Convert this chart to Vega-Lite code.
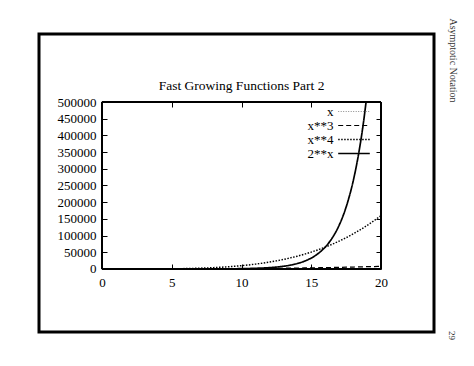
{
  "$schema": "https://vega.github.io/schema/vega-lite/v6.json",
  "width": 395,
  "height": 298,
  "autosize": {"type": "none"},
  "padding": {"left": 39, "top": 34, "right": 40, "bottom": 34},
  "background": "white",
  "title": {
    "text": "Fast Growing Functions Part 2",
    "anchor": "middle",
    "frame": "group",
    "font": "Liberation Serif",
    "fontSize": 13.5,
    "fontWeight": "normal",
    "color": "black",
    "dx": 5,
    "offset": -75
  },
  "data": {
    "values": [
      {"x": 0, "a": 0, "b": 0, "c": 0, "d": 1},
      {"x": 0.5, "a": 0.5, "b": 0.125, "c": 0.0625, "d": 1.414},
      {"x": 1, "a": 1, "b": 1, "c": 1, "d": 2},
      {"x": 1.5, "a": 1.5, "b": 3.375, "c": 5.0625, "d": 2.828},
      {"x": 2, "a": 2, "b": 8, "c": 16, "d": 4},
      {"x": 2.5, "a": 2.5, "b": 15.625, "c": 39.06, "d": 5.657},
      {"x": 3, "a": 3, "b": 27, "c": 81, "d": 8},
      {"x": 3.5, "a": 3.5, "b": 42.875, "c": 150.06, "d": 11.31},
      {"x": 4, "a": 4, "b": 64, "c": 256, "d": 16},
      {"x": 4.5, "a": 4.5, "b": 91.125, "c": 410.06, "d": 22.63},
      {"x": 5, "a": 5, "b": 125, "c": 625, "d": 32},
      {"x": 5.5, "a": 5.5, "b": 166.4, "c": 915.1, "d": 45.25},
      {"x": 6, "a": 6, "b": 216, "c": 1296, "d": 64},
      {"x": 6.5, "a": 6.5, "b": 274.6, "c": 1785.1, "d": 90.51},
      {"x": 7, "a": 7, "b": 343, "c": 2401, "d": 128},
      {"x": 7.5, "a": 7.5, "b": 421.9, "c": 3164.1, "d": 181.0},
      {"x": 8, "a": 8, "b": 512, "c": 4096, "d": 256},
      {"x": 8.5, "a": 8.5, "b": 614.1, "c": 5220.1, "d": 362.0},
      {"x": 9, "a": 9, "b": 729, "c": 6561, "d": 512},
      {"x": 9.5, "a": 9.5, "b": 857.4, "c": 8145.1, "d": 724.1},
      {"x": 10, "a": 10, "b": 1000, "c": 10000, "d": 1024},
      {"x": 10.5, "a": 10.5, "b": 1157.6, "c": 12155.1, "d": 1448.2},
      {"x": 11, "a": 11, "b": 1331, "c": 14641, "d": 2048},
      {"x": 11.5, "a": 11.5, "b": 1520.9, "c": 17490.1, "d": 2896.3},
      {"x": 12, "a": 12, "b": 1728, "c": 20736, "d": 4096},
      {"x": 12.5, "a": 12.5, "b": 1953.1, "c": 24414.1, "d": 5792.6},
      {"x": 13, "a": 13, "b": 2197, "c": 28561, "d": 8192},
      {"x": 13.5, "a": 13.5, "b": 2460.4, "c": 33215.1, "d": 11585.2},
      {"x": 14, "a": 14, "b": 2744, "c": 38416, "d": 16384},
      {"x": 14.5, "a": 14.5, "b": 3048.6, "c": 44205.1, "d": 23170.5},
      {"x": 15, "a": 15, "b": 3375, "c": 50625, "d": 32768},
      {"x": 15.5, "a": 15.5, "b": 3723.9, "c": 57720.1, "d": 46341},
      {"x": 16, "a": 16, "b": 4096, "c": 65536, "d": 65536},
      {"x": 16.5, "a": 16.5, "b": 4492.1, "c": 74120.1, "d": 92682},
      {"x": 17, "a": 17, "b": 4913, "c": 83521, "d": 131072},
      {"x": 17.5, "a": 17.5, "b": 5359.4, "c": 93789.1, "d": 185364},
      {"x": 18, "a": 18, "b": 5832, "c": 104976, "d": 262144},
      {"x": 18.25, "a": 18.25, "b": 6078.3, "c": 110929, "d": 311744},
      {"x": 18.5, "a": 18.5, "b": 6331.6, "c": 117135.1, "d": 370728},
      {"x": 18.75, "a": 18.75, "b": 6591.8, "c": 123596, "d": 440872},
      {"x": 18.93, "a": 18.93, "b": 6783.5, "c": 128411, "d": 500000},
      {"x": 19, "a": 19, "b": 6859, "c": 130321, "d": null},
      {"x": 19.5, "a": 19.5, "b": 7414.9, "c": 144590.1, "d": null},
      {"x": 20, "a": 20, "b": 8000, "c": 160000, "d": null}
    ]
  },
  "layer": [
    {
      "transform": [
        {"fold": ["a", "b", "c", "d"], "as": ["key", "value"]},
        {"filter": "datum.value != null"},
        {"lookup": "key", "from": {"data": {"values": [
          {"key": "a", "name": "x"},
          {"key": "b", "name": "x**3"},
          {"key": "c", "name": "x**4"},
          {"key": "d", "name": "2**x"}
        ]}, "key": "key", "fields": ["name"]}}
      ],
      "mark": {"type": "line", "interpolate": "monotone"},
      "encoding": {
        "x": {
          "field": "x", "type": "quantitative",
          "scale": {"domain": [-4.516, 23.799], "nice": false, "zero": false},
          "axis": {
            "orient": "bottom", "offset": -63, "values": [0, 5, 10, 15, 20],
            "domain": false, "grid": false, "tickSize": -5, "tickColor": "black",
            "labelPadding": 12, "title": null
          }
        },
        "y": {
          "field": "value", "type": "quantitative",
          "scale": {"domain": [-188623, 703593], "nice": false, "zero": false},
          "axis": {
            "orient": "left", "offset": -63,
            "values": [0, 50000, 100000, 150000, 200000, 250000, 300000, 350000, 400000, 450000, 500000],
            "format": "d", "domain": false, "grid": false, "tickSize": -5, "tickColor": "black",
            "labelPadding": 11, "title": null
          }
        },
        "color": {
          "field": "name", "type": "nominal",
          "scale": {"domain": ["x", "x**3", "x**4", "2**x"], "range": ["#8a8a8a", "black", "black", "black"]},
          "legend": {
            "title": null, "orient": "none", "legendX": 308.5, "legendY": 71,
            "symbolType": "M-3,0H3", "symbolSize": 111, "labelAlign": "right", "labelOffset": -27,
            "rowPadding": -3, "labelFontSize": 13, "labelFont": "Liberation Serif", "labelColor": "black"
          }
        },
        "strokeDash": {
          "field": "name", "type": "nominal",
          "scale": {"domain": ["x", "x**3", "x**4", "2**x"], "range": [[1, 1.5], [5, 3], [1.5, 1.5], [1, 0]]},
          "legend": {
            "title": null, "orient": "none", "legendX": 308.5, "legendY": 71,
            "symbolType": "M-3,0H3", "symbolSize": 111, "labelAlign": "right", "labelOffset": -27,
            "rowPadding": -3, "labelFontSize": 13, "labelFont": "Liberation Serif", "labelColor": "black"
          }
        },
        "strokeWidth": {
          "field": "name", "type": "nominal",
          "scale": {"domain": ["x", "x**3", "x**4", "2**x"], "range": [1, 1.7, 1.7, 1.6]},
          "legend": {
            "title": null, "orient": "none", "legendX": 308.5, "legendY": 71,
            "symbolType": "M-3,0H3", "symbolSize": 111, "labelAlign": "right", "labelOffset": -27,
            "rowPadding": -3, "labelFontSize": 13, "labelFont": "Liberation Serif", "labelColor": "black"
          }
        }
      }
    },
    {
      "mark": {"type": "rect", "fill": null, "stroke": "black", "strokeWidth": 1},
      "encoding": {
        "x": {
          "datum": 0, "type": "quantitative",
          "axis": {
            "orient": "top", "offset": -68, "values": [0, 5, 10, 15, 20],
            "domain": false, "grid": false, "labels": false, "tickSize": -5, "tickColor": "black", "title": null
          }
        },
        "x2": {"datum": 20},
        "y": {
          "datum": 0, "type": "quantitative",
          "axis": {
            "orient": "right", "offset": -53,
            "values": [0, 50000, 100000, 150000, 200000, 250000, 300000, 350000, 400000, 450000, 500000],
            "domain": false, "grid": false, "tickSize": -5, "tickColor": "black",
            "labelExpr": "datum.value == 0 ? '29' : ''",
            "labelAngle": 90, "labelAlign": "center", "labelBaseline": "middle",
            "labelOffset": 66, "labelPadding": 75, "labelFontSize": 9, "labelColor": "#333",
            "labelFont": "Liberation Serif",
            "title": "Asymptotic Notation", "titleAngle": 90, "titleX": 71, "titleY": 26,
            "titleAlign": "center", "titleBaseline": "middle", "titleFontSize": 10,
            "titleFontWeight": "normal", "titleFont": "Liberation Serif", "titleColor": "#333"
          }
        },
        "y2": {"datum": 500000}
      }
    }
  ],
  "resolve": {"axis": {"x": "independent", "y": "independent"}},
  "config": {
    "view": {"stroke": "black", "strokeWidth": 3},
    "axis": {
      "labelFont": "Liberation Serif", "labelFontSize": 13, "labelColor": "black",
      "labelOverlap": false, "labelFlush": false, "ticks": true
    },
    "legend": {"labelFont": "Liberation Serif"}
  }
}
